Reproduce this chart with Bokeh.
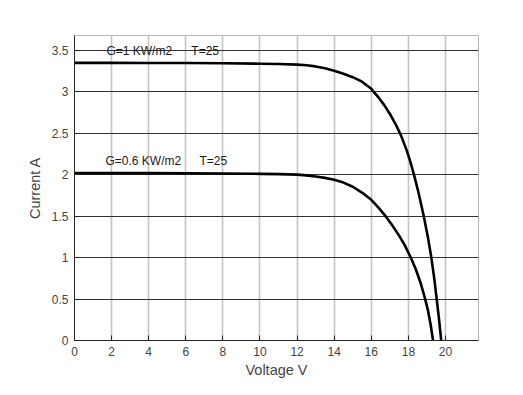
from bokeh.plotting import figure
from bokeh.models import FixedTicker, Range1d, Label
from bokeh.embed import file_html
from bokeh.resources import INLINE

# Data
v_g1 = [0, 2, 4, 6, 8, 10, 11, 12, 12.5, 13, 13.5, 14, 14.5, 15, 15.5, 16, 16.13,
        16.4, 16.7, 17.04, 17.3, 17.6, 17.9, 18.1, 18.29, 18.53, 18.83, 19.05,
        19.23, 19.4, 19.51, 19.65, 19.77]
i_g1 = [3.35, 3.35, 3.349, 3.348, 3.345, 3.34, 3.336, 3.329, 3.321, 3.307, 3.284,
        3.254, 3.219, 3.177, 3.123, 3.038, 3.0, 2.93, 2.84, 2.72, 2.615, 2.475, 2.30,
        2.16, 2.01, 1.80, 1.50, 1.25, 1.01, 0.74, 0.53, 0.26, 0.0]

v_g06 = [0, 2, 4, 6, 8, 10, 11, 12, 12.5, 13, 13.5, 14, 14.5, 15, 15.5, 16, 16.4,
         16.77, 17.1, 17.5, 17.8, 18.11, 18.4, 18.65, 18.87, 19.05, 19.2, 19.33]
i_g06 = [2.02, 2.02, 2.019, 2.018, 2.015, 2.011, 2.007, 2.001, 1.992, 1.979, 1.962,
         1.94, 1.905, 1.855, 1.785, 1.698, 1.60, 1.50, 1.40, 1.265, 1.15, 1.01, 0.86,
         0.70, 0.53, 0.37, 0.19, 0.0]

x_ticks = [0, 2, 4, 6, 8, 10, 12, 14, 16, 18, 20]
y_ticks = [0, 0.5, 1, 1.5, 2, 2.5, 3, 3.5]
y_tick_labels = ["0", "0.5", "1", "1.5", "2", "2.5", "3", "3.5"]

label_g = ["G=1 KW/m2", "G=0.6 KW/m2"]
label_t = ["T=25", "T=25"]
label_y = [3.35, 2.02]
label_gx = [1.72, 1.67]
label_tx = [6.3, 6.74]

FONT = "Liberation Sans"

p = figure(width=523, height=395, output_backend="svg", toolbar_location=None,
           x_range=Range1d(0, 21.78), y_range=Range1d(0, 3.68),
           min_border_left=74, min_border_right=45, min_border_top=35,
           min_border_bottom=55)
p.background_fill_color = "white"
p.border_fill_color = "white"
p.outline_line_color = "#b8b8b8"
p.outline_line_width = 1

p.xgrid.ticker = FixedTicker(ticks=x_ticks)
p.ygrid.ticker = FixedTicker(ticks=y_ticks)
p.xgrid.grid_line_color = "#c4c4c4"
p.xgrid.grid_line_width = 1.6
p.ygrid.grid_line_color = "#333333"
p.ygrid.grid_line_width = 1

for ax in (p.xaxis[0], p.yaxis[0]):
    ax.major_tick_in = 5
    ax.major_tick_out = 0
    ax.minor_tick_in = 0
    ax.minor_tick_out = 0
    ax.axis_line_color = "#262626"
    ax.major_tick_line_color = "#262626"
    ax.major_label_text_font = FONT
    ax.major_label_text_font_size = "12px"
    ax.major_label_text_color = "#444444"
    ax.axis_label_text_font = FONT
    ax.axis_label_text_font_size = "14.5px"
    ax.axis_label_text_font_style = "normal"
    ax.axis_label_text_color = "#444444"

p.xaxis.ticker = FixedTicker(ticks=x_ticks)
p.yaxis.ticker = FixedTicker(ticks=y_ticks)
p.yaxis.major_label_overrides = {t: s for t, s in zip(y_ticks, y_tick_labels)}
p.xaxis.major_label_standoff = 6
p.yaxis.major_label_standoff = 6
p.xaxis.axis_label = "Voltage V"
p.yaxis.axis_label = "Current A"
p.xaxis.axis_label_standoff = 3
p.yaxis.axis_label_standoff = 6

p.line(v_g1, i_g1, line_color="black", line_width=2.6, line_join="round")
p.line(v_g06, i_g06, line_color="black", line_width=2.6, line_join="round")

for g, t, y, gx, tx in zip(label_g, label_t, label_y, label_gx, label_tx):
    p.add_layout(Label(x=gx, y=y, text=g, y_offset=5, text_font=FONT,
                       text_font_size="12px", text_color="#1a1a1a"))
    p.add_layout(Label(x=tx, y=y, text=t, y_offset=5, text_font=FONT,
                       text_font_size="12px", text_color="#1a1a1a"))

open("out.html", "w").write(file_html(p, INLINE))
